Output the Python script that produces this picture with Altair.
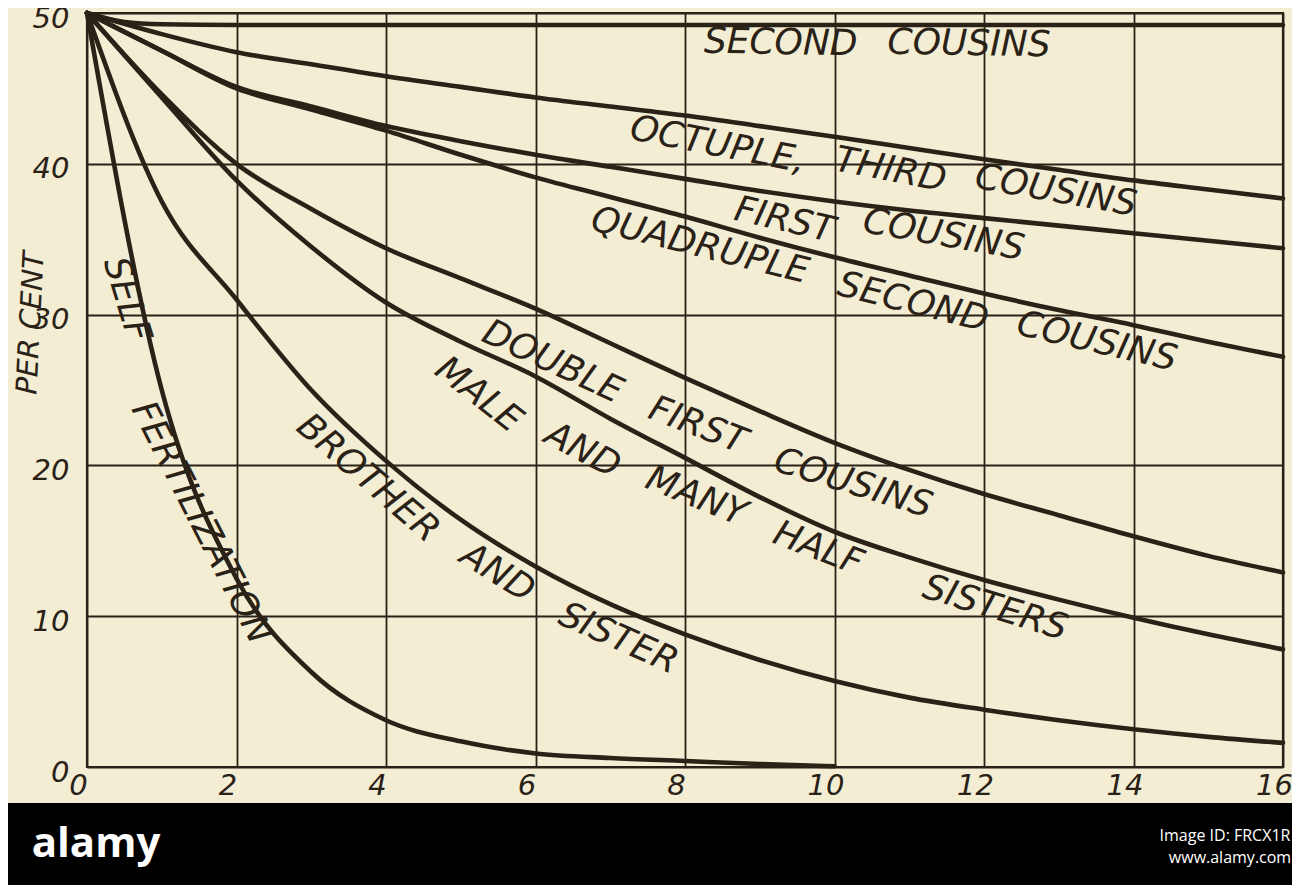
import altair as alt
import pandas as pd

# ---- data (per cent vs generations) ----
GEN = list(range(17))
SECOND_X = [0, 0.5, 1, 2, 4, 6, 8, 10, 12, 14, 16]
SECOND_COUSINS = [50, 49.4, 49.25, 49.2, 49.2, 49.2, 49.2, 49.2, 49.2, 49.2, 49.2]
OCTUPLE_THIRD = [50, 48.6, 47.4, 46.6, 45.8, 45.1, 44.4, 43.8, 43.2, 42.5, 41.8, 41.05, 40.3, 39.6, 38.9, 38.3, 37.7]
FIRST_COUSINS = [50, 47.5, 45.1, 43.8, 42.5, 41.5, 40.6, 39.8, 39.0, 38.2, 37.5, 36.9, 36.4, 35.9, 35.4, 34.9, 34.4]
QUAD_SECOND = [50, 47.5, 45.0, 43.6, 42.2, 40.6, 39.1, 37.8, 36.5, 35.1, 33.8, 32.6, 31.4, 30.3, 29.3, 28.2, 27.2]
DOUBLE_FIRST = [50, 44.6, 40.0, 37.0, 34.4, 32.4, 30.4, 28.1, 25.8, 23.6, 21.5, 19.7, 18.1, 16.7, 15.3, 14.0, 12.9]
MALE_HALF = [50, 44.4, 38.9, 34.5, 30.8, 28.2, 25.9, 23.1, 20.5, 17.9, 15.6, 13.9, 12.4, 11.1, 9.9, 8.8, 7.8]
BROTHER_SISTER = [50, 37.5, 31.0, 25.0, 20.3, 16.4, 13.3, 10.8, 8.8, 7.1, 5.7, 4.6, 3.8, 3.1, 2.5, 2.0, 1.6]
SELF_X = list(range(11))
SELF_FERT = [50, 25, 12.5, 6.3, 3.1, 1.7, 0.9, 0.6, 0.4, 0.2, 0.05]

X_TICKS = [0, 2, 4, 6, 8, 10, 12, 14, 16]
Y_TICKS = [0, 10, 20, 30, 40, 50]

# curve labels, word by word (hand lettering follows the curves)
LABEL_TEXT = ["SECOND", "COUSINS",
              "OCTUPLE,", "THIRD", "COUSINS",
              "FIRST", "COUSINS",
              "QUADRUPLE", "SECOND", "COUSINS",
              "DOUBLE", "FIRST", "COUSINS",
              "MALE", "AND", "MANY", "HALF", "SISTERS",
              "BROTHER", "AND", "SISTER",
              "SELF", "FERTILIZATION"]
LABEL_X = [9.28, 11.80,
           8.44, 10.75, 12.96,
           9.33, 11.46,
           8.20, 11.05, 13.51,
           6.23, 8.17, 10.25,
           5.24, 6.63, 8.15, 9.78, 12.15,
           3.76, 5.49, 7.11,
           0.53, 1.53]
LABEL_Y = [48.01, 47.94,
           41.25, 39.59, 38.20,
           36.27, 35.28,
           34.57, 30.80, 28.20,
           26.86, 22.65, 18.81,
           24.68, 20.99, 17.94, 14.48, 10.55,
           19.14, 12.88, 8.52,
           31.0, 16.2]
LABEL_ANGLE = [1, 1,
               11, 11, 10,
               13, 10,
               14, 14, 13,
               25, 21, 17,
               38, 28, 22, 21, 17,
               41, 32, 24,
               73, 63]

INK = "#2a2117"
PAPER = "#f3edd3"
FONT = "DejaVu Sans"

rows = []
def add(name, xs, ys):
    for i, (a, b) in enumerate(zip(xs, ys)):
        rows.append({"series": name, "gen": a, "pct": b, "order": i})

add("Second cousins", SECOND_X, SECOND_COUSINS)
add("Octuple third cousins", GEN, OCTUPLE_THIRD)
add("First cousins", GEN, FIRST_COUSINS)
add("Quadruple second cousins", GEN, QUAD_SECOND)
add("Double first cousins", GEN, DOUBLE_FIRST)
add("Male and many half sisters", GEN, MALE_HALF)
add("Brother and sister", GEN, BROTHER_SISTER)
add("Self fertilization", SELF_X, SELF_FERT)
df = pd.DataFrame(rows)

labels = pd.DataFrame({"text": LABEL_TEXT, "gen": LABEL_X, "pct": LABEL_Y, "angle": LABEL_ANGLE})

xscale = alt.Scale(domain=[0, 16], nice=False, zero=False)
yscale = alt.Scale(domain=[0, 50], nice=False, zero=False)

x_axis = alt.Axis(values=X_TICKS, format="d", grid=True, ticks=False, domain=False, title=None,
                  labelFont=FONT, labelFontStyle="italic", labelFontSize=29,
                  labelColor=INK, labelPadding=4, labelOffset=-9, labelFlush=False,
                  gridColor=INK, gridWidth=1.8, gridOpacity=1)
y_axis = alt.Axis(values=Y_TICKS, format="d", grid=True, ticks=False, domain=False, title=None,
                  labelFont=FONT, labelFontStyle="italic", labelFontSize=29,
                  labelColor=INK, labelPadding=18, labelOffset=5, labelFlush=False,
                  gridColor=INK, gridWidth=1.8, gridOpacity=1)

lines = alt.Chart(df).mark_line(interpolate="monotone", color=INK, strokeWidth=4.6,
                                strokeCap="round").encode(
    x=alt.X("gen:Q", scale=xscale, axis=x_axis),
    y=alt.Y("pct:Q", scale=yscale, axis=y_axis),
    detail="series:N",
    order="order:Q",
)

curve_labels = alt.Chart(labels).mark_text(font=FONT, fontSize=36, fontStyle="italic",
                                           color=INK, align="center", baseline="middle").encode(
    x=alt.X("gen:Q", scale=xscale),
    y=alt.Y("pct:Q", scale=yscale),
    text="text:N",
    angle=alt.Angle("angle:Q", scale=None),
)

one = pd.DataFrame({"k": [0]})
y_title = alt.Chart(one).mark_text(text="PER CENT", font=FONT, fontSize=29, fontStyle="italic",
                                   color=INK, angle=273, align="center", baseline="middle").encode(
    x=alt.value(-56), y=alt.value(310))

band = alt.Chart(one).mark_rect(color="#000000").encode(
    x=alt.value(-90), x2=alt.value(1220), y=alt.value(790), y2=alt.value(900))
logo = alt.Chart(one).mark_text(text="alamy", font="Open Sans", fontSize=42, fontWeight="bold",
                                color="#ffffff", align="center", baseline="middle").encode(
    x=alt.value(9), y=alt.value(831))
img_id = alt.Chart(one).mark_text(text="Image ID: FRCX1R", font="Open Sans", fontSize=16,
                                  color="#ffffff", align="center", baseline="middle").encode(
    x=alt.value(1138), y=alt.value(823))
www = alt.Chart(one).mark_text(text="www.alamy.com", font="Open Sans", fontSize=16,
                               color="#ffffff", align="center", baseline="middle").encode(
    x=alt.value(1143), y=alt.value(845))

chart = alt.layer(lines, curve_labels, y_title, band, logo, img_id, www).properties(
    width=1196, height=754,
    padding={"left": 79, "top": 5, "right": 9, "bottom": 118},
    autosize=alt.AutoSizeParams(type="none"),
    background=PAPER,
).configure_view(stroke=INK, strokeWidth=2.2)

chart.save("out.html", embed_options={"renderer": "svg", "actions": False})
